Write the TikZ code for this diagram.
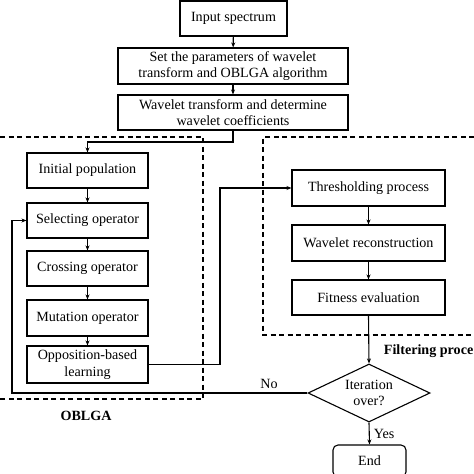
\documentclass[tikz,border=0pt]{standalone}
\usepackage{fontspec}
\setmainfont{Liberation Serif}
\usetikzlibrary{arrows.meta,shapes.geometric}
\begin{document}
\begin{tikzpicture}[x=1pt,y=-1pt,
  box/.style={draw,line width=1.1pt,inner sep=0pt,align=center,font=\fontsize{14.1}{16.5}\selectfont},
  arr/.style={line width=1.1pt,-{Stealth[length=5pt,width=4pt]}},
  ln/.style={line width=1.1pt},
  dsh/.style={line width=1.1pt,dash pattern=on 5pt off 3.5pt},
  lbl/.style={font=\fontsize{14.1}{16.5}\selectfont,inner sep=0pt},
  blbl/.style={font=\fontsize{14.1}{16.5}\selectfont\bfseries,inner sep=0pt}]
\useasboundingbox (0,0) rectangle (474,474);
\fill[white] (0,0) rectangle (474,474);
% boxes
\node[box,minimum width=107pt,minimum height=35pt] (in) at (233.5,18.5) {Input spectrum};
\node[box,minimum width=230pt,minimum height=36pt] (set) at (233,66) {Set the parameters of wavelet\\transform and OBLGA algorithm};
\node[box,minimum width=230pt,minimum height=35pt] (wave) at (233,112.5) {Wavelet transform and determine\\wavelet coefficients};
\node[box,minimum width=121pt,minimum height=35pt] (init) at (87.5,170.5) {Initial population};
\node[box,minimum width=121pt,minimum height=35pt] (sel) at (87.5,220.5) {Selecting operator};
\node[box,minimum width=121pt,minimum height=35pt] (cross) at (87.5,268.5) {Crossing operator};
\node[box,minimum width=121pt,minimum height=36pt] (mut) at (87.5,318) {Mutation operator};
\node[box,minimum width=121pt,minimum height=37pt] (opp) at (87.5,364.5) {Opposition-based\\learning};
\node[box,minimum width=153pt,minimum height=36pt] (thr) at (368.5,188) {Thresholding process};
\node[box,minimum width=153pt,minimum height=36pt] (rec) at (368.5,243) {Wavelet reconstruction};
\node[box,minimum width=153pt,minimum height=35pt] (fit) at (368.5,297.5) {Fitness evaluation};
\node[box,shape=diamond,aspect=2.1,minimum width=122pt,minimum height=58pt] (dia) at (369,393) {Iteration\\over?};
\node[box,rounded corners=5pt,minimum width=73pt,minimum height=32pt] (end) at (369.5,461) {End};
% dashed regions
\draw[dsh] (0,137) -- (203,137) -- (203,399) -- (0,399);
\draw[dsh] (474,137) -- (263,137) -- (263,335) -- (474,335);
% labels
\node[blbl] (oblga) at (86,416) {OBLGA};
\node[blbl,anchor=east] (filt) at (473.5,351) {Filtering proce};
% connectors
\coordinate (c1) at (233,142);
\coordinate (c2) at (220,188);
\coordinate (c3) at (12,393);
\draw[arr] (in) -- (set);
\draw[arr] (set) -- (wave);
\draw[arr] (wave.south) -- (c1) -| (init.north);
\draw[arr] (init) -- (sel);
\draw[arr] (sel) -- (cross);
\draw[arr] (cross) -- (mut);
\draw[arr] (mut) -- (opp);
\draw[arr] (opp.east) -| (c2) -- (thr.west);
\draw[arr] (thr) -- (rec);
\draw[arr] (rec) -- (fit);
\draw[arr] (fit.south) -- (dia.north);
\draw[arr] (dia.south) -- node[lbl,right=4pt] (yes) {Yes} (end.north);
\draw[arr] (dia.west) -- node[lbl,pos=0.13,above=4pt] (no) {No} (c3) |- (sel.west);
\end{tikzpicture}
\end{document}
